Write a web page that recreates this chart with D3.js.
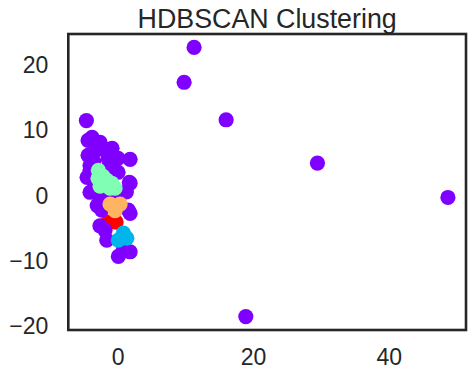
<!DOCTYPE html>
<html>
<head>
<meta charset="utf-8">
<script src="https://cdn.jsdelivr.net/npm/d3@7"></script>
<style>
  html, body { margin: 0; padding: 0; background: #ffffff; }
  svg { display: block; }
  text { font-family: "Liberation Sans", Arial, sans-serif; fill: #262626; }
</style>
</head>
<body>
<svg id="chart" width="474" height="379"></svg>
<script>
// ---- data ----
const title = "HDBSCAN Clustering";
const xTicks = [0, 20, 40];
const yTicks = [-20, -10, 0, 10, 20];
const clusterLabels = [-1, 0, 1, 2, 3];

// noise (label -1)
const noiseX = [-4.6, -4.35, -3.76, -2.58, -2.14, -0.81, -3.17, -4.35, 1.85, 0.07, -1.40, -4.06, -0.66, 0.07, -4.06, -4.50, 1.74, -4.06, -3.32, -0.12, 1.85, 1.59, 1.85, -2.33, -1.85, -1.59, 0.86, 1.85, 0.12, -2.58, -2.6, -3.5, -1.2, -3.0, -2.0, 1.3,
  11.29, 9.82, 16.02, 29.49, 48.74, 18.92];
const noiseY = [11.5, 8.47, 8.93, 8.17, 7.25, 7.25, 6.95, 6.18, 5.57, 5.73, 5.73, 4.66, 4.20, 3.59, 3.89, 2.82, 2.06, 0.53, 1.60, -0.18, 1.91, -2.2, -2.72, -2.2, -5.3, -6.8, -8.3, -8.58, -9.3, -0.69, -4.6, 5.2, 5.0, -1.5, 0.2, 0.6,
  22.7, 17.37, 11.63, 5.0, -0.27, -18.5];

// cluster 0 (blue)
const c0X = [0.86, 0.12, 1.36, 0.96];
const c0Y = [-5.73, -6.8, -6.5, -6.2];
// cluster 1 (aquamarine)
const c1X = [-2.83, -2.14, -1.59, -1.11, -2.58, -2.10, -0.86, -2.88, -0.37];
const c1Y = [3.89, 2.98, 2.37, 1.15, 1.45, 1.86, 1.91, 2.67, 1.15];
// cluster 2 (orange)
const c2X = [-1.1, 0.37, -0.37, -0.4];
const c2Y = [-1.3, -1.3, -2.3, -1.6];
// cluster 3 (red)
const c3X = [-1.1, -0.22, -1.7];
const c3Y = [-4.05, -4.05, -4.35];

// ---- build points (drawing order: red, noise, blue, aquamarine, orange) ----
const groups = [
  {label: 3, xs: c3X, ys: c3Y},
  {label: -1, xs: noiseX, ys: noiseY},
  {label: 0, xs: c0X, ys: c0Y},
  {label: 1, xs: c1X, ys: c1Y},
  {label: 2, xs: c2X, ys: c2Y}
];
const points = [];
groups.forEach(g => g.xs.forEach((x, i) => points.push({x, y: g.ys[i], label: g.label})));

// matplotlib "rainbow" colormap
function rainbow(t) {
  const r = Math.min(1, Math.abs(2 * t - 0.5));
  const g = Math.sin(Math.PI * t);
  const b = Math.cos(Math.PI * t / 2);
  return d3.rgb(r * 255, g * 255, Math.max(0, b) * 255).formatHex();
}
const color = d3.scaleLinear().domain(d3.extent(clusterLabels)).range([0, 1]);

// ---- layout ----
const svg = d3.select("#chart");
const L = 68.3, R = 466, T = 34, B = 330;

function padded(vals) {
  const [a, b] = d3.extent(vals);
  const s = b - a;
  return [a - 0.05 * s, b + 0.05 * s];
}
const x = d3.scaleLinear().domain(padded(points.map(d => d.x))).range([L, R]);
const y = d3.scaleLinear().domain(padded(points.map(d => d.y))).range([B, T]);

const clipId = "plotclip";
svg.append("clipPath").attr("id", clipId).append("rect")
  .attr("x", L).attr("y", T).attr("width", R - L).attr("height", B - T);

svg.append("g").attr("clip-path", `url(#${clipId})`)
  .selectAll("circle").data(points).enter().append("circle")
  .attr("cx", d => x(d.x)).attr("cy", d => y(d.y)).attr("r", 7.6)
  .attr("fill", d => rainbow(color(d.label)));

// axes (no tick marks, seaborn white style)
const xAxis = d3.axisBottom(x).tickValues(xTicks).tickSize(0).tickPadding(19).tickFormat(d3.format("d"));
const yAxis = d3.axisLeft(y).tickValues(yTicks).tickSize(0).tickPadding(20)
  .tickFormat(d => d < 0 ? "\u2212" + Math.abs(d) : String(d));

const gx = svg.append("g").attr("transform", `translate(0,${B})`).call(xAxis);
const gy = svg.append("g").attr("transform", `translate(${L},0)`).call(yAxis);
[gx, gy].forEach(g => {
  g.select(".domain").remove();
  g.selectAll("text").style("font-size", "23px").attr("fill", "#262626")
    .style("font-family", "'Liberation Sans', Arial, sans-serif");
});

// frame
svg.append("rect").attr("x", L).attr("y", T).attr("width", R - L).attr("height", B - T)
  .attr("fill", "none").attr("stroke", "#262626").attr("stroke-width", 2.6);

// title
svg.append("text").attr("x", (L + R) / 2).attr("y", 27.5).attr("text-anchor", "middle")
  .style("font-size", "26.8px").text(title);
</script>
</body>
</html>
